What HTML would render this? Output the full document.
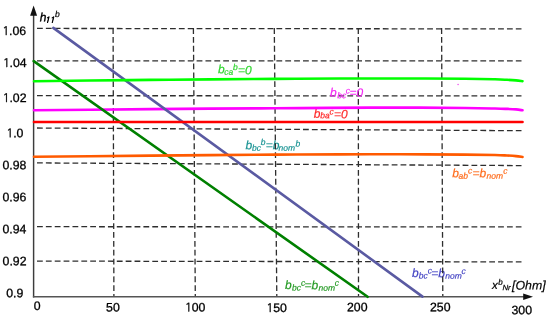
<!DOCTYPE html>
<html><head><meta charset="utf-8"><style>
html,body{margin:0;padding:0;background:#fff;width:550px;height:320px;overflow:hidden}
svg{display:block}
text{font-family:"Liberation Sans", Arial, sans-serif;stroke-width:0.2px}
.g{stroke:#2e2e2e;stroke-width:1.3;stroke-dasharray:5.8 3.067;fill:none}
.d{fill:none;stroke-width:2.6;stroke-linecap:round}
</style></head><body>
<svg width="550" height="320" viewBox="0 0 550 320">
<text transform="translate(2.20 35.06) matrix(1 0.001 0 1 0 0)" font-size="12.3" fill="#000000" stroke="#000000" style="stroke-width:0.3px;"><tspan font-size="11.93" style="font-family:NanumGothic,sans-serif;letter-spacing:-0.39px">1</tspan>.06</text>
<text transform="translate(2.74 67.04) matrix(1 0.001 0 1 0 0)" font-size="12.3" fill="#000000" stroke="#000000" style="stroke-width:0.3px;"><tspan font-size="11.93" style="font-family:NanumGothic,sans-serif;letter-spacing:-0.39px">1</tspan>.04</text>
<text transform="translate(2.56 102.03) matrix(1 0.001 0 1 0 0)" font-size="12.3" fill="#000000" stroke="#000000" style="stroke-width:0.3px;"><tspan font-size="11.93" style="font-family:NanumGothic,sans-serif;letter-spacing:-0.39px">1</tspan>.02</text>
<text transform="translate(6.29 137.17) matrix(1 0.001 0 1 0 0)" font-size="12.3" fill="#000000" stroke="#000000" style="stroke-width:0.3px;"><tspan font-size="11.93" style="font-family:NanumGothic,sans-serif;letter-spacing:-0.39px">1</tspan>.0</text>
<text transform="translate(2.42 169.18) matrix(1 0.001 0 1 0 0)" font-size="12.3" fill="#000000" stroke="#000000" style="stroke-width:0.3px;">0.98</text>
<text transform="translate(2.52 201.18) matrix(1 0.001 0 1 0 0)" font-size="12.3" fill="#000000" stroke="#000000" style="stroke-width:0.3px;">0.96</text>
<text transform="translate(2.47 233.15) matrix(1 0.001 0 1 0 0)" font-size="12.3" fill="#000000" stroke="#000000" style="stroke-width:0.3px;">0.94</text>
<text transform="translate(2.54 265.18) matrix(1 0.001 0 1 0 0)" font-size="12.3" fill="#000000" stroke="#000000" style="stroke-width:0.3px;">0.92</text>
<text transform="translate(6.17 297.34) matrix(1 0.001 0 1 0 0)" font-size="12.3" fill="#000000" stroke="#000000" style="stroke-width:0.3px;">0.9</text>
<text transform="translate(33.65 309.97) matrix(1 0.001 0 1 0 0)" font-size="12.3" fill="#000000" stroke="#000000" style="stroke-width:0.3px;">0</text>
<text transform="translate(106.05 311.57) matrix(1 0.001 0 1 0 0)" font-size="12.3" fill="#000000" stroke="#000000" style="stroke-width:0.3px;">50</text>
<text transform="translate(184.82 311.53) matrix(1 0.001 0 1 0 0)" font-size="12.3" fill="#000000" stroke="#000000" style="stroke-width:0.3px;"><tspan font-size="11.93" style="font-family:NanumGothic,sans-serif;letter-spacing:-0.39px">1</tspan>00</text>
<text transform="translate(266.30 311.94) matrix(1 0.001 0 1 0 0)" font-size="12.3" fill="#000000" stroke="#000000" style="stroke-width:0.3px;"><tspan font-size="11.93" style="font-family:NanumGothic,sans-serif;letter-spacing:-0.39px">1</tspan>50</text>
<text transform="translate(346.96 311.32) matrix(1 0.001 0 1 0 0)" font-size="12.3" fill="#000000" stroke="#000000" style="stroke-width:0.3px;">200</text>
<text transform="translate(429.95 311.20) matrix(1 0.001 0 1 0 0)" font-size="12.3" fill="#000000" stroke="#000000" style="stroke-width:0.3px;">250</text>
<text transform="translate(511.45 314.33) matrix(1 0.001 0 1 0 0)" font-size="12.3" fill="#000000" stroke="#000000" style="stroke-width:0.3px;">300</text>
<text transform="translate(39.81 21.24) matrix(1 0.001 0 1 0 0)" font-size="12" fill="#000000" stroke="#000000" style="font-style:italic;stroke-width:0.35px;">h</text>
<text transform="translate(44.69 22.79) matrix(1 0.001 0 1 0 0)" font-size="8.5" fill="#000000" stroke="#000000" letter-spacing="0.6" style="font-style:italic;stroke-width:0.55px;"><tspan font-size="8.24" style="font-family:NanumGothic,sans-serif;letter-spacing:-0.27px">1</tspan><tspan font-size="8.24" style="font-family:NanumGothic,sans-serif;letter-spacing:-0.27px">1</tspan></text>
<text transform="translate(55.06 17.12) matrix(1 0.001 0 1 0 0)" font-size="8.5" fill="#000000" stroke="#000000" style="font-style:italic;">b</text>
<text transform="translate(492.07 288.96) matrix(1 0.001 0 1 0 0)" font-size="11.5" fill="#000000" stroke="#000000" style="font-style:italic;">x</text>
<text transform="translate(498.15 284.73) matrix(1 0.001 0 1 0 0)" font-size="8" fill="#000000" stroke="#000000" style="font-style:italic;">b</text>
<text transform="translate(502.48 290.20) matrix(1 0.001 0 1 0 0)" font-size="7.8" fill="#000000" stroke="#000000" style="font-style:italic;">Nr</text>
<text transform="translate(512.08 289.39) matrix(1 0.001 0 1 0 0)" font-size="12.3" fill="#000000" stroke="#000000" style="font-style:italic;">[Ohm]</text>
<text transform="translate(217.94 73.13) matrix(1 0.001 0 1 0 0)" font-size="12" fill="#2fd62f" stroke="#2fd62f" style="font-style:italic;">b</text>
<text transform="translate(224.36 74.86) matrix(1 0.001 0 1 0 0)" font-size="8.5" fill="#2fd62f" stroke="#2fd62f" style="font-style:italic;">ca</text>
<text transform="translate(233.07 70.04) matrix(1 0.001 0 1 0 0)" font-size="8.5" fill="#2fd62f" stroke="#2fd62f" style="font-style:italic;">b</text>
<text transform="translate(238.06 74.22) matrix(1 0.001 0 1 0 0)" font-size="12" fill="#2fd62f" stroke="#2fd62f" style="font-style:italic;">=0</text>
<text transform="translate(313.66 117.68) matrix(1 0.001 0 1 0 0)" font-size="12" fill="#ff2a2a" stroke="#ff2a2a" style="font-style:italic;">b</text>
<text transform="translate(320.24 118.28) matrix(1 0.001 0 1 0 0)" font-size="8.5" fill="#ff2a2a" stroke="#ff2a2a" style="font-style:italic;">ba</text>
<text transform="translate(329.57 114.46) matrix(1 0.001 0 1 0 0)" font-size="8.5" fill="#ff2a2a" stroke="#ff2a2a" style="font-style:italic;">c</text>
<text transform="translate(334.11 118.22) matrix(1 0.001 0 1 0 0)" font-size="12" fill="#ff2a2a" stroke="#ff2a2a" style="font-style:italic;">=0</text>
<text transform="translate(245.47 149.15) matrix(1 0.001 0 1 0 0)" font-size="12" fill="#1a9494" stroke="#1a9494" style="font-style:italic;">b</text>
<text transform="translate(251.99 150.67) matrix(1 0.001 0 1 0 0)" font-size="8.5" fill="#1a9494" stroke="#1a9494" style="font-style:italic;">bc</text>
<text transform="translate(260.86 145.07) matrix(1 0.001 0 1 0 0)" font-size="8.5" fill="#1a9494" stroke="#1a9494" style="font-style:italic;">b</text>
<text transform="translate(265.75 149.27) matrix(1 0.001 0 1 0 0)" font-size="12" fill="#1a9494" stroke="#1a9494" style="font-style:italic;">=b</text>
<text transform="translate(278.51 150.79) matrix(1 0.001 0 1 0 0)" font-size="8.5" fill="#1a9494" stroke="#1a9494" style="font-style:italic;">nom</text>
<text transform="translate(295.48 146.57) matrix(1 0.001 0 1 0 0)" font-size="8.5" fill="#1a9494" stroke="#1a9494" style="font-style:italic;">b</text>
<text transform="translate(452.31 177.15) matrix(1 0.001 0 1 0 0)" font-size="12" fill="#ff6c1c" stroke="#ff6c1c" style="font-style:italic;">b</text>
<text transform="translate(458.62 178.66) matrix(1 0.001 0 1 0 0)" font-size="8.5" fill="#ff6c1c" stroke="#ff6c1c" style="font-style:italic;">ab</text>
<text transform="translate(467.93 173.50) matrix(1 0.001 0 1 0 0)" font-size="8.5" fill="#ff6c1c" stroke="#ff6c1c" style="font-style:italic;">c</text>
<text transform="translate(472.43 177.27) matrix(1 0.001 0 1 0 0)" font-size="12" fill="#ff6c1c" stroke="#ff6c1c" style="font-style:italic;">=b</text>
<text transform="translate(486.51 178.79) matrix(1 0.001 0 1 0 0)" font-size="8.5" fill="#ff6c1c" stroke="#ff6c1c" style="font-style:italic;">nom</text>
<text transform="translate(503.16 173.87) matrix(1 0.001 0 1 0 0)" font-size="8.5" fill="#ff6c1c" stroke="#ff6c1c" style="font-style:italic;">c</text>
<text transform="translate(284.98 289.12) matrix(1 0.001 0 1 0 0)" font-size="12" fill="#249a24" stroke="#249a24" style="font-style:italic;">b</text>
<text transform="translate(291.91 290.57) matrix(1 0.001 0 1 0 0)" font-size="8.5" fill="#249a24" stroke="#249a24" style="font-style:italic;">bc</text>
<text transform="translate(300.96 285.83) matrix(1 0.001 0 1 0 0)" font-size="8.5" fill="#249a24" stroke="#249a24" style="font-style:italic;">c</text>
<text transform="translate(304.58 289.27) matrix(1 0.001 0 1 0 0)" font-size="12" fill="#249a24" stroke="#249a24" style="font-style:italic;">=b</text>
<text transform="translate(318.50 290.77) matrix(1 0.001 0 1 0 0)" font-size="8.5" fill="#249a24" stroke="#249a24" style="font-style:italic;">nom</text>
<text transform="translate(334.81 285.87) matrix(1 0.001 0 1 0 0)" font-size="8.5" fill="#249a24" stroke="#249a24" style="font-style:italic;">c</text>
<text transform="translate(411.98 277.12) matrix(1 0.001 0 1 0 0)" font-size="12" fill="#4646c4" stroke="#4646c4" style="font-style:italic;">b</text>
<text transform="translate(418.68 278.57) matrix(1 0.001 0 1 0 0)" font-size="8.5" fill="#4646c4" stroke="#4646c4" style="font-style:italic;">bc</text>
<text transform="translate(427.63 273.41) matrix(1 0.001 0 1 0 0)" font-size="8.5" fill="#4646c4" stroke="#4646c4" style="font-style:italic;">c</text>
<text transform="translate(431.21 277.27) matrix(1 0.001 0 1 0 0)" font-size="12" fill="#4646c4" stroke="#4646c4" style="font-style:italic;">=b</text>
<text transform="translate(445.27 278.75) matrix(1 0.001 0 1 0 0)" font-size="8.5" fill="#4646c4" stroke="#4646c4" style="font-style:italic;">nom</text>
<text transform="translate(461.61 274.03) matrix(1 0.001 0 1 0 0)" font-size="8.5" fill="#4646c4" stroke="#4646c4" style="font-style:italic;">c</text>
<line x1="37.0" y1="28.45" x2="521.5" y2="28.9" class="g"/>
<line x1="37.0" y1="60.9" x2="521.5" y2="60.9" class="g"/>
<line x1="37.0" y1="95.7" x2="521.5" y2="95.9" class="g"/>
<line x1="37.0" y1="128.0" x2="521.5" y2="130.7" class="g"/>
<line x1="37.0" y1="162.9" x2="521.5" y2="165.6" class="g"/>
<line x1="37.0" y1="226.7" x2="521.5" y2="226.9" class="g"/>
<line x1="37.0" y1="261.1" x2="521.5" y2="261.9" class="g"/>
<line x1="113.1" y1="28.1" x2="113.9" y2="296.5" class="g"/>
<line x1="193.4" y1="28.1" x2="195.3" y2="296.5" class="g"/>
<line x1="274.3" y1="28.1" x2="276.8" y2="296.5" class="g"/>
<line x1="358.3" y1="28.1" x2="358.5" y2="296.5" class="g"/>
<line x1="441.6" y1="28.1" x2="442.8" y2="296.5" class="g"/>
<text transform="translate(329.92 96.50) matrix(1 0.001 0 1 0 0)" font-size="12" fill="#f52af5" stroke="#f52af5" style="font-style:italic;">b</text>
<text transform="translate(337.17 98.36) matrix(1 0.001 0 1 0 0)" font-size="8.5" fill="#f52af5" stroke="#f52af5" style="font-style:italic;">bc</text>
<text transform="translate(345.76 93.43) matrix(1 0.001 0 1 0 0)" font-size="8.5" fill="#f52af5" stroke="#f52af5" style="font-style:italic;">c</text>
<text transform="translate(349.61 96.64) matrix(1 0.001 0 1 0 0)" font-size="12" fill="#f52af5" stroke="#f52af5" style="font-style:italic;">=0</text>
<line x1="33.6" y1="14" x2="33.6" y2="297.4" stroke="#3c3c3c" stroke-width="1.45"/>
<line x1="32.9" y1="296.75" x2="525" y2="296.75" stroke="#555555" stroke-width="1.6"/>
<path d="M34,110.3 C43.33,110.20 60.67,109.98 90,109.7 C119.33,109.42 179.17,108.83 210,108.6 C240.83,108.37 255.00,108.42 275,108.3 C295.00,108.18 309.17,108.02 330,107.9 C350.83,107.78 377.50,107.58 400,107.6 C422.50,107.62 449.17,107.85 465,108.0 C480.83,108.15 488.00,108.35 495,108.5 C502.00,108.65 503.50,108.75 507,108.9 C510.50,109.05 513.42,109.17 516,109.4 C518.58,109.63 521.42,110.15 522.5,110.3" class="d" stroke="#ff00ff"/>
<path d="M33.7,61.1 L367.6,296.8" class="d" stroke="#008000"/>
<path d="M53.3,27.9 L422.5,296.6" class="d" stroke="#5a5aa2"/>
<path d="M34,81.2 C43.33,81.08 70.67,80.72 90,80.5 C109.33,80.28 130.00,80.08 150,79.9 C170.00,79.72 189.17,79.57 210,79.4 C230.83,79.23 253.33,79.05 275,78.9 C296.67,78.75 319.17,78.58 340,78.5 C360.83,78.42 379.17,78.40 400,78.45 C420.83,78.50 449.17,78.66 465,78.8 C480.83,78.94 488.00,79.13 495,79.3 C502.00,79.47 503.50,79.62 507,79.8 C510.50,79.98 513.42,80.17 516,80.4 C518.58,80.63 521.42,81.07 522.5,81.2" class="d" stroke="#00ff00"/>
<path d="M34,122 L522.5,122" class="d" stroke="#ff0000"/>
<path d="M34,156.75 C43.33,156.66 60.67,156.47 90,156.2 C119.33,155.92 179.17,155.37 210,155.1 C240.83,154.83 253.33,154.72 275,154.6 C296.67,154.47 319.17,154.40 340,154.35 C360.83,154.30 379.17,154.26 400,154.3 C420.83,154.34 449.17,154.48 465,154.6 C480.83,154.72 488.00,154.85 495,155.0 C502.00,155.15 503.50,155.32 507,155.5 C510.50,155.68 513.42,155.85 516,156.1 C518.58,156.35 521.42,156.85 522.5,157.0" class="d" stroke="#ff5a00"/>
<ellipse cx="458.1" cy="84.5" rx="0.9" ry="0.7" fill="#f040f0" opacity="0.8"/>
<polygon points="33.6,5.4 30.1,15.8 37.1,15.8" fill="#111"/>
<polygon points="533,296.8 523.2,293.4 523.2,300.1" fill="#111"/>
</svg>
</body></html>
